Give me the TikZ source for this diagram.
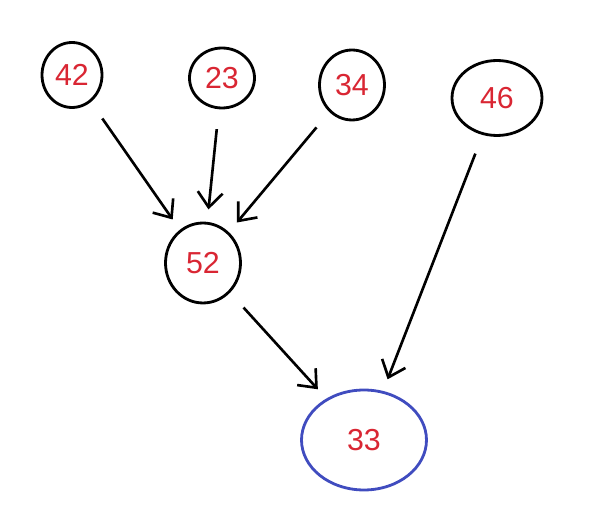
\documentclass[tikz,border=0pt]{standalone}
\usepackage{fontspec}
\setmainfont{Liberation Sans}
\usepackage{tikz}
\usetikzlibrary{arrows.meta,positioning,shapes.geometric}
\definecolor{numred}{rgb}{0.85,0.15,0.2}
\definecolor{ringblue}{rgb}{0.25,0.3,0.75}
\begin{document}
\begin{tikzpicture}[x=0.02cm,y=-0.02cm,
num/.style   = {draw, ellipse, line width=1.6pt, inner sep=0pt,
                minimum width=#1, text=numred, font=\LARGE},
Arrow/.style = {line width=1.5pt,
                -{Straight Barb[length=3mm,width=5mm]},
                shorten <=4mm, shorten >=2.5mm},
                    ]
\useasboundingbox (0,0) rectangle (600,530);
\node[num=1.2cm, minimum height=1.3cm] (a) at (72,75)  {42};
\node[num=1.3cm, minimum height=1.2cm] (b) at (222,78) {23};
\node[num=1.3cm, minimum height=1.4cm] (c) at (352,85) {34};
\node[num=1.8cm, minimum height=1.5cm] (d) at (497,98) {46};
\node[num=1.5cm, minimum height=1.6cm] (e) at (203,263) {52};
\node[num=2.5cm, minimum height=2cm, draw=ringblue] (f) at (364,440) {33};

\draw[Arrow]    (a) -- (e);
\draw[Arrow]    (b) -- (e);
\draw[Arrow]    (c) -- (e);
\draw[Arrow]    (e) -- (f);
\draw[Arrow]    (d) -- (f);
\end{tikzpicture}
\end{document}
